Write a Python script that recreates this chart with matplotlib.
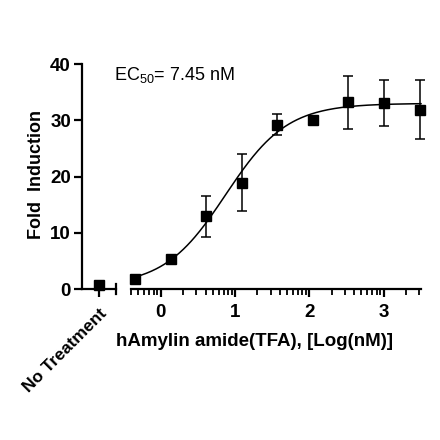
import numpy as np
import matplotlib
matplotlib.use("Agg")
import matplotlib.pyplot as plt
from matplotlib.lines import Line2D

plt.rcParams['font.family'] = ['Liberation Sans', 'DejaVu Sans']
plt.rcParams['mathtext.fontset'] = 'custom'
plt.rcParams['mathtext.rm'] = 'Liberation Sans'
plt.rcParams['mathtext.it'] = 'Liberation Sans:italic'
plt.rcParams['mathtext.bf'] = 'Liberation Sans:bold'

# Data
log_conc = [-0.34, 0.14, 0.61, 1.09, 1.57, 2.05, 2.52, 3.00, 3.48]
fold = [1.8, 5.3, 12.9, 18.9, 29.2, 30.0, 33.2, 33.0, 31.9]
fold_err = [0.0, 0.0, 3.6, 5.1, 1.9, 0.0, 4.7, 4.1, 5.2]
ctrl_label = ["No Treatment"]
ctrl_value = [0.8]
ctrl_err = [0.0]

# fit parameters (4PL)
ec50_nM = 7.45
fit_bottom = 0.5
fit_top = 33.0
fit_hill = 1.05

x_ticks = [0, 1, 2, 3]
y_ticks = [0, 10, 20, 30, 40]

fig = plt.figure(figsize=(4.4, 4.4), dpi=100)
H = 440.0
y0 = (H - 289) / H
yh = (289 - 64) / H

axL = fig.add_axes([82 / H, y0, (116 - 82) / H, yh])
axM = fig.add_axes([131 / H, y0, (421 - 131) / H, yh])

lw = 1.6
for ax in (axL, axM):
    ax.set_ylim(0, 40)
    for s in ('top', 'right'):
        ax.spines[s].set_visible(False)
    ax.spines['bottom'].set_linewidth(lw)
    ax.spines['left'].set_linewidth(lw)
    ax.patch.set_alpha(0)

# left (control) axis
axL.set_xlim(-0.5, 0.5)
axL.errorbar([0], ctrl_value, yerr=ctrl_err, fmt='s', color='black',
             markersize=7.5, capsize=3.5, elinewidth=1.0, clip_on=False)
axL.set_xticks([0])
axL.set_xticklabels(ctrl_label, rotation=45, ha='right', rotation_mode='anchor',
                    fontsize=12.5, fontweight='bold')
axL.set_yticks(y_ticks)
axL.set_yticklabels([str(v) for v in y_ticks], fontsize=13.5, fontweight='bold')
axL.tick_params(axis='both', width=lw, length=6, direction='out', pad=2)
axL.tick_params(axis='x', pad=6)
axL.set_ylabel('Fold  Induction', fontsize=13, fontweight='bold')
axL.yaxis.set_label_coords((45 - 82) / 34.0, (289 - 174) / 225.0)
# break cap at right end of left spine
axL.add_line(Line2D([1, 1], [-0.022, 0.022], transform=axL.transAxes,
                    color='black', lw=lw, clip_on=False))

# main axis
axM.spines['left'].set_visible(False)
axM.set_xlim(-0.4, 3.5)
axM.set_yticks([])
axM.set_xticks(x_ticks)
axM.set_xticklabels([str(v) for v in x_ticks], fontsize=13.5, fontweight='bold')
minor = []
for d in range(-1, 4):
    for k in range(2, 10):
        v = d + np.log10(k)
        if -0.41 <= v <= 3.5 and abs(v - round(v)) > 1e-6:
            minor.append(v)
axM.set_xticks(minor, minor=True)
axM.tick_params(axis='x', which='major', width=lw, length=6, pad=5)
axM.tick_params(axis='x', which='minor', width=1.3, length=4)

xs = np.linspace(-0.4, 3.5, 300)
logec = np.log10(ec50_nM)
curve = fit_bottom + (fit_top - fit_bottom) / (1 + 10 ** ((logec - xs) * fit_hill))
axM.plot(xs, curve, color='black', lw=1.1, clip_on=False)
axM.errorbar(log_conc, fold, yerr=fold_err, fmt='s', color='black',
             markersize=7.5, capsize=3.5, elinewidth=1.1, capthick=1.1, clip_on=False)
axM.set_xlabel('hAmylin amide(TFA), [Log(nM)]', fontsize=13.5, fontweight='bold')
axM.xaxis.set_label_coords((254.5 - 131) / 290.0, -(342 - 289) / 225.0)
axM.xaxis.label.set_va('center')

fig.text(114 / H, 1 - 75 / H, r'EC$_{\mathrm{50}}$= 7.45 nM', fontsize=13,
         va='center', ha='left')

fig.savefig('out.png', dpi=100)
